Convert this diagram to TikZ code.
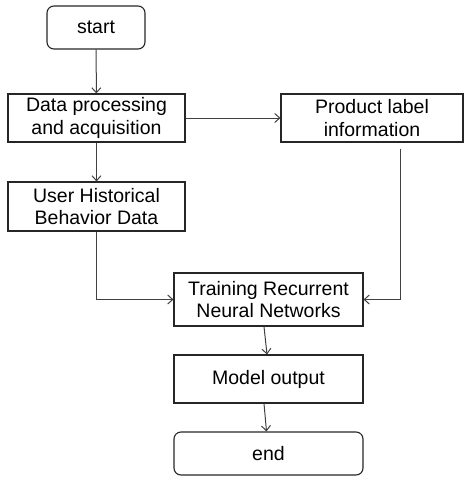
\documentclass[tikz,border=0pt]{standalone}
\usepackage{fontspec}
\setmainfont{Liberation Sans}
\usetikzlibrary{arrows.meta,calc}
\tikzset{stepbox/.style={draw=black!85, line width=1.1pt, align=center, inner sep=0pt, font=\fontsize{19.5}{22.5}\selectfont},
termbox/.style={stepbox, rounded corners=7pt},
flow/.style={draw=black!75, line width=1pt, -{Straight Barb[length=5pt,width=9pt]}}}
\begin{document}
\begin{tikzpicture}[x=1pt,y=-1pt]
\useasboundingbox (0,0) rectangle (474,490);
\node[termbox, minimum width=98pt, minimum height=43pt] (start) at (96,27.5) {start};
\node[stepbox, minimum width=177pt, minimum height=48pt] (data) at (96.5,118) {Data processing\\and acquisition};
\node[stepbox, minimum width=182pt, minimum height=48pt] (label) at (372,118) {Product label\\information};
\node[stepbox, minimum width=177pt, minimum height=49pt] (user) at (96.5,206.5) {User Historical\\Behavior Data};
\node[stepbox, minimum width=189pt, minimum height=53pt] (train) at (268.5,299.5) {Training Recurrent\\Neural Networks};
\node[stepbox, minimum width=189pt, minimum height=48pt] (model) at (268.5,379) {Model output};
\node[termbox, minimum width=189pt, minimum height=43pt] (end) at (268.5,453.5) {end};
\coordinate (labelout) at ($(label.south)+(28,6)$);
\draw[flow] (start) -- (data);
\draw[flow] (data) -- (label);
\draw[flow] (data) -- (user);
\draw[flow] (user.south) |- (train.west);
\draw[flow] (labelout) |- (train.east);
\draw[flow] ([xshift=-4.5pt]train.south) -- ([xshift=-1.5pt]model.north);
\draw[flow] ([xshift=-4.5pt]model.south) -- ([xshift=-2pt]end.north);
\end{tikzpicture}
\end{document}
